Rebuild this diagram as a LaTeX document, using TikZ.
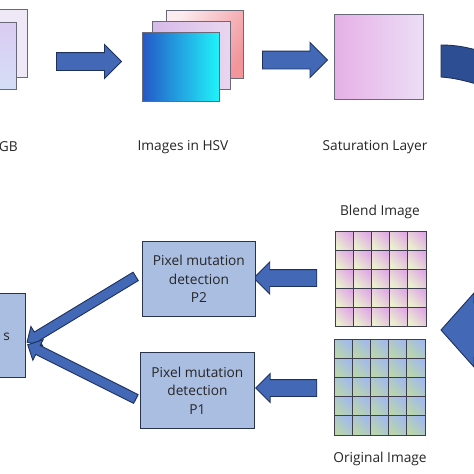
\documentclass[tikz,border=0pt]{standalone}
\usepackage{fontspec}
\setmainfont{Open Sans}
\usetikzlibrary{shapes.arrows}

\definecolor{arrowblue}{RGB}{66,104,182}
\definecolor{arrowdark}{RGB}{46,78,148}
\definecolor{arrowline}{RGB}{30,48,92}
\definecolor{boxfill}{RGB}{170,190,226}
\definecolor{boxline}{RGB}{40,52,78}
\definecolor{imgline}{RGB}{105,105,122}
\definecolor{cellline}{RGB}{62,62,78}
\definecolor{blendA}{RGB}{224,170,230}
\definecolor{blendB}{RGB}{234,240,206}
\definecolor{origA}{RGB}{162,186,236}
\definecolor{origB}{RGB}{186,214,170}

\tikzset{
  blockarrow/.style 2 args={single arrow, draw=arrowline, fill=arrowblue, line width=0.9pt,
    inner xsep=0pt, inner ysep=#1, single arrow head extend=#2},
  imgsq/.style={draw=imgline, line width=0.9pt, inner sep=0pt, anchor=north west},
  stepbox/.style={draw=boxline, fill=boxfill, line width=0.9pt, inner sep=0pt,
    anchor=north west, align=center, text=black!85},
  caption/.style={text=black!85, inner sep=0pt},
  blendcell/.style={draw=cellline, line width=1pt, left color=blendA, right color=blendB, shading angle=-45},
  origcell/.style={draw=cellline, line width=1pt, left color=origA, right color=origB, shading angle=-45}
}

\begin{document}
\begin{tikzpicture}[x=1pt,y=-1pt,font=\fontsize{13.7}{18.5}\selectfont]
\useasboundingbox (0,0) rectangle (474,474);
\clip (0,0) rectangle (474,474);
\fill[white] (0,0) rectangle (474,474);

% top row: images
\node[imgsq, minimum width=72pt, minimum height=68pt, fill={rgb,255:red,238;green,232;blue,247}] (rgbback) at (-45,9) {};
\node[imgsq, minimum width=56pt, minimum height=67pt, top color={rgb,255:red,218;green,204;blue,242}, bottom color={rgb,255:red,212;green,222;blue,246}] (rgbfront) at (-40,22) {};
\node[caption, anchor=east] (rgblabel) at (18,147) {GB};

\node[imgsq, minimum width=77pt, minimum height=68pt, left color={rgb,255:red,252;green,236;blue,240}, right color={rgb,255:red,242;green,150;blue,156}, shading angle=60] (hsvback) at (166,10) {};
\node[imgsq, minimum width=78pt, minimum height=68pt, left color={rgb,255:red,214;green,186;blue,232}, right color={rgb,255:red,234;green,214;blue,240}] (hsvmid) at (152,21) {};
\node[imgsq, minimum width=77pt, minimum height=69pt, left color={rgb,255:red,36;green,88;blue,200}, right color={rgb,255:red,32;green,244;blue,250}] (hsvfront) at (142,32) {};
\node[caption] (hsvlabel) at (183,147) {Images in HSV};

\node[imgsq, minimum width=89pt, minimum height=85pt, left color={rgb,255:red,230;green,176;blue,230}, right color={rgb,255:red,236;green,222;blue,246}] (sat) at (334,14) {};
\node[caption] (satlabel) at (375,147) {Saturation Layer};

\node[blockarrow={8.5pt}{8pt}, minimum height=65pt] (arr1) at (84.5,61.5) {};
\node[blockarrow={8.5pt}{8.5pt}, minimum height=65pt] (arr2) at (290.5,60) {};

% big turn arrow on the right
\filldraw[fill=arrowdark, draw=arrowline, line width=0.9pt]
  (441,45) .. controls (455,45) and (466,47) .. (480,51) -- (480,85)
  .. controls (466,81) and (455,78) .. (441,77) -- cycle;
\filldraw[fill=arrowblue, draw=arrowline, line width=0.9pt]
  (441,330) -- (474,293) -- (474,303) -- (480,303) -- (480,357) -- (474,357) -- (474,367) -- cycle;
\draw[arrowline, line width=0.9pt] (474,303) -- (480,303) (474,357) -- (480,357);

% pixel grids
\node[caption] (blendlabel) at (380,212) {Blend Image};
\foreach \i in {0,...,4}
  \foreach \j in {0,...,4}
    \shadedraw[blendcell] (335+\i*18.2,231+\j*19) rectangle ++(18.2,19);
\node[caption] (origlabel) at (380,459) {Original Image};
\foreach \i in {0,...,4}
  \foreach \j in {0,...,4}
    \shadedraw[origcell] (334+\i*18.2,339+\j*19.2) rectangle ++(18.2,19.2);

\node[blockarrow={8pt}{7.5pt}, minimum height=63pt, rotate=180] (arr3) at (289.5,278) {};
\node[blockarrow={8pt}{6pt}, minimum height=61pt, rotate=180] (arr4) at (290.5,388) {};

% detection boxes
\node[stepbox, minimum width=113pt, minimum height=75pt] (p2) at (142,241) {Pixel mutation\\detection\\P2};
\node[stepbox, minimum width=114pt, minimum height=76pt] (p1) at (140,352) {Pixel mutation\\detection\\P1};
\node[stepbox, minimum width=35pt, minimum height=84pt] (res) at (-10,293) {};
\node[caption, anchor=east] (reslabel) at (10,337) {s};

\node[blockarrow={4.5pt}{6.5pt}, minimum height=127pt, rotate=211.2] (arr5) at (83.5,308) {};
\node[blockarrow={4.5pt}{6.5pt}, minimum height=121pt, rotate=153.4] (arr6) at (84,373) {};

\end{tikzpicture}
\end{document}
